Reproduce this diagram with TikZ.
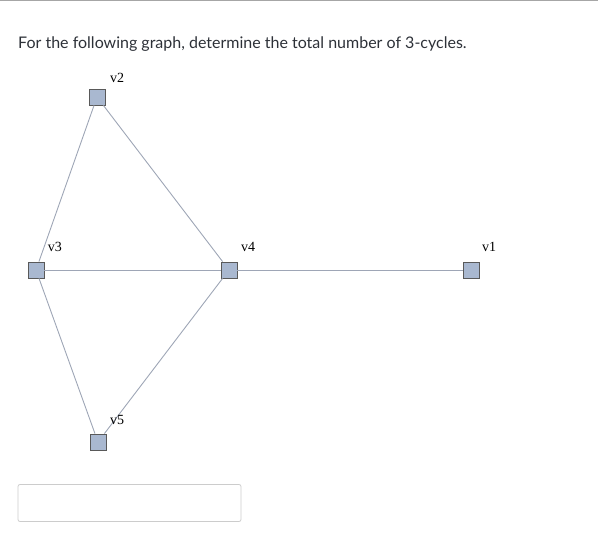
\documentclass[tikz,border=0pt]{standalone}
\usepackage{fontspec}
\setmainfont{Liberation Serif}
\newfontfamily\latofont{Lato}
\definecolor{vfill}{HTML}{A9B8D0}
\definecolor{vedge}{HTML}{9EA6B6}
\definecolor{boxgray}{HTML}{CCCCCC}
\definecolor{titlegray}{HTML}{2D3138}
\begin{document}
\begin{tikzpicture}
  [x=1pt,y=-1pt,every node/.style={inner sep=0pt}]
  \tikzstyle{vert} = [rectangle,draw=black!65,fill=vfill,minimum size=16pt,line width=.8pt]
  \tikzstyle{lbl} = [font=\fontsize{14}{16}\selectfont]
  \useasboundingbox (0,0) rectangle (598,548);
  \draw[black!35,line width=1.5pt] (0,0.75) -- (598,0.75);
  \node[anchor=base west,text=titlegray,font=\latofont\fontsize{16}{19}\selectfont] (title) at (18,49)
    {For the following graph, determine the total number of 3-cycles.};

  \node[vert] (v2) at (97,97)  {};
  \node[vert] (v3) at (36,270) {};
  \node[vert] (v4) at (229,270) {};
  \node[vert] (v1) at (471,270) {};
  \node[vert] (v5) at (98,442) {};

  \foreach \source /\dest in {v2/v3,v2/v4,v3/v4,v4/v1,v3/v5,v4/v5}
    \draw[vedge,line width=.9pt] (\source) -- (\dest);

  \node[lbl] (l2) at (117,78)  {v2};
  \node[lbl] (l3) at (55,247)  {v3};
  \node[lbl] (l4) at (248,247) {v4};
  \node[lbl] (l1) at (489,247) {v1};
  \node[lbl] (l5) at (117,420) {v5};

  \node[draw=boxgray,line width=.8pt,rounded corners=2pt,minimum width=223pt,minimum height=37pt] (answer) at (129.5,503) {};
\end{tikzpicture}
\end{document}
